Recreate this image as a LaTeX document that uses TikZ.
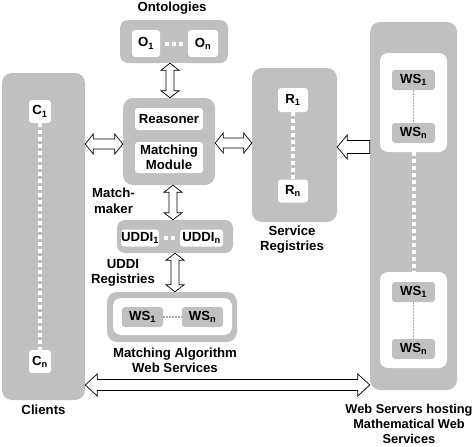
\documentclass[tikz,border=0pt]{standalone}
\usepackage{fontspec}
\setmainfont{Liberation Sans}
\usetikzlibrary{arrows.meta,calc}
\definecolor{boxgray}{RGB}{192,192,192}
\definecolor{dotgray}{RGB}{170,170,170}
\tikzset{
  txt/.style={font=\bfseries\fontsize{13.2}{15.5}\selectfont},
  big/.style={fill=boxgray, draw=none, rounded corners=10pt, inner sep=0pt},
  inner/.style={fill=white, draw=none, rounded corners=8pt, inner sep=0pt},
  wbox/.style={fill=white, draw=none, rounded corners=3pt, inner sep=0pt, txt},
  gbox/.style={fill=boxgray, draw=none, rounded corners=3pt, inner sep=0pt, txt},
  lbl/.style={txt, align=center, inner sep=0pt},
  arr/.style={draw=black, fill=white, line width=0.7pt, line join=miter},
  wdots/.style={white, line width=4pt, dash pattern=on 4pt off 3pt},
  gdots/.style={dotgray, line width=1.2pt, dash pattern=on 1.5pt off 1.5pt},
}
% horizontal double arrow: #1 head length, #2 head half width, #3 shaft half width, #4 left point, #5 right point
\newcommand\hdbl[5]{%
  \draw[arr] let \p1=(#4), \p2=(#5) in
    (\x1,\y1) -- (\x1+#1,\y1+#2) -- (\x1+#1,\y1+#3) -- (\x2-#1,\y1+#3) -- (\x2-#1,\y1+#2) --
    (\x2,\y1) -- (\x2-#1,\y1-#2) -- (\x2-#1,\y1-#3) -- (\x1+#1,\y1-#3) -- (\x1+#1,\y1-#2) -- cycle;}
% vertical double arrow: #4 top point, #5 bottom point
\newcommand\vdbl[5]{%
  \draw[arr] let \p1=(#4), \p2=(#5) in
    (\x1,\y1) -- (\x1+#2,\y1-#1) -- (\x1+#3,\y1-#1) -- (\x1+#3,\y2+#1) -- (\x1+#2,\y2+#1) --
    (\x1,\y2) -- (\x1-#2,\y2+#1) -- (\x1-#3,\y2+#1) -- (\x1-#3,\y1-#1) -- (\x1-#2,\y1-#1) -- cycle;}
% single left-pointing arrow: #4 tip (left), #5 tail (right)
\newcommand\lsgl[5]{%
  \draw[arr] let \p1=(#4), \p2=(#5) in
    (\x1,\y1) -- (\x1+#1,\y1+#2) -- (\x1+#1,\y1+#3) -- (\x2,\y1+#3) -- (\x2,\y1-#3) --
    (\x1+#1,\y1-#3) -- (\x1+#1,\y1-#2) -- cycle;}
\begin{document}
\begin{tikzpicture}[x=1pt,y=-1pt]
\useasboundingbox (0,0) rectangle (474,447);
% Clients
\node[big, minimum width=83pt, minimum height=327pt] (clients) at (43.5,236.5) {};
\node[wbox, minimum width=22pt, minimum height=23pt] (c1) at (40,111.5) {C\textsubscript{1}};
\node[wbox, minimum width=22pt, minimum height=23pt] (cn) at (40,361.5) {C\textsubscript{n}};
\draw[wdots] (c1.south) -- (cn.north);
\node[lbl] (clientslbl) at (43.5,410) {Clients};
% Ontologies
\node[lbl] (ontlbl) at (172,8) {Ontologies};
\node[big, rounded corners=8pt, minimum width=108pt, minimum height=43pt] (onto) at (174,41.5) {};
\node[wbox, minimum width=28pt, minimum height=27pt] (o1) at (146,43.5) {O\textsubscript{1}};
\node[wbox, minimum width=30pt, minimum height=27pt] (on) at (203,43.5) {O\textsubscript{n}};
\foreach \t in {0.25,0.5,0.75}
  \fill[white] ($(o1.east)!\t!(on.west)$) ++(-2,-2) rectangle ++(4,4);
% Matchmaker
\node[big, minimum width=92pt, minimum height=87pt] (mm) at (169,141.5) {};
\node[wbox, minimum width=68pt, minimum height=22pt] (reas) at (169,119) {Reasoner};
\node[wbox, minimum width=68pt, minimum height=31pt, align=center] (match) at (169,157.5) {Matching\\Module};
\node[lbl] (mmlbl) at (113.5,201) {Match-\\maker};
% UDDI
\node[big, rounded corners=8pt, minimum width=116pt, minimum height=33pt] (uddi) at (175,236.5) {};
\node[wbox, minimum width=36pt, minimum height=17pt] (u1) at (140,238) {UDDI\textsubscript{1}};
\node[wbox, minimum width=43pt, minimum height=17pt] (un) at (201.5,238) {UDDI\textsubscript{n}};
\foreach \t in {0.33,0.67}
  \fill[white] ($(u1.east)!\t!(un.west)$) ++(-2,-2) rectangle ++(4,4);
\node[lbl] (uddilbl) at (123,273) {UDDI\\Registries};
% Matching algorithm web services
\node[big, minimum width=130pt, minimum height=50pt] (ma) at (172,317) {};
\node[inner, minimum width=119pt, minimum height=37pt] (mainner) at (172.5,316.5) {};
\node[gbox, minimum width=41pt, minimum height=20pt] (ma1) at (142.5,317) {WS\textsubscript{1}};
\node[gbox, minimum width=41pt, minimum height=20pt] (man) at (202.5,317) {WS\textsubscript{n}};
\draw[gdots] (ma1.east) -- (man.west);
\node[lbl] (malbl) at (175,360.5) {Matching Algorithm\\Web Services};
% Service registries
\node[big, minimum width=85pt, minimum height=154pt] (sr) at (294.5,145) {};
\node[wbox, minimum width=30pt, minimum height=24pt] (r1) at (293,100) {R\textsubscript{1}};
\node[wbox, minimum width=30pt, minimum height=23pt] (rn) at (293,191) {R\textsubscript{n}};
\draw[wdots] (r1.south) -- (rn.north);
\node[lbl] (srlbl) at (292,239.5) {Service\\Registries};
% Web servers
\node[big, minimum width=87pt, minimum height=368pt] (wsc) at (413.5,206) {};
\node[inner, minimum width=67pt, minimum height=99pt] (g1) at (413.5,102.5) {};
\node[gbox, minimum width=43pt, minimum height=20pt] (w11) at (413.5,80) {WS\textsubscript{1}};
\node[gbox, minimum width=43pt, minimum height=20pt] (w1n) at (413.5,133) {WS\textsubscript{n}};
\draw[gdots] (w11.south) -- (w1n.north);
\node[inner, minimum width=67pt, minimum height=96pt] (g2) at (413.5,320) {};
\node[gbox, minimum width=43pt, minimum height=20pt] (w21) at (413.5,292) {WS\textsubscript{1}};
\node[gbox, minimum width=43pt, minimum height=20pt] (w2n) at (413.5,349) {WS\textsubscript{n}};
\draw[gdots] (w21.south) -- (w2n.north);
\draw[wdots] (g1.south) -- (g2.north);
\node[lbl, font=\bfseries\fontsize{12.8}{15}\selectfont] (wslbl) at (409,424) {Web Servers hosting\\Mathematical Web\\Services};
% Arrows
\hdbl{8pt}{10pt}{5pt}{clients.east |- 0,144}{mm.west |- 0,144}
\hdbl{8pt}{10pt}{5pt}{mm.east |- 0,143}{sr.west |- 0,143}
\vdbl{7pt}{9pt}{4pt}{onto.south -| 170,0}{mm.north -| 170,0}
\vdbl{7pt}{9pt}{4pt}{mm.south -| 173,0}{uddi.north -| 173,0}
\vdbl{7pt}{9pt}{4pt}{uddi.south -| 175,0}{ma.north -| 175,0}
\lsgl{10pt}{12pt}{6.5pt}{sr.east |- 0,147}{wsc.west |- 0,147}
\hdbl{12pt}{11pt}{5.5pt}{clients.east |- 0,385}{wsc.west |- 0,385}
\end{tikzpicture}
\end{document}
